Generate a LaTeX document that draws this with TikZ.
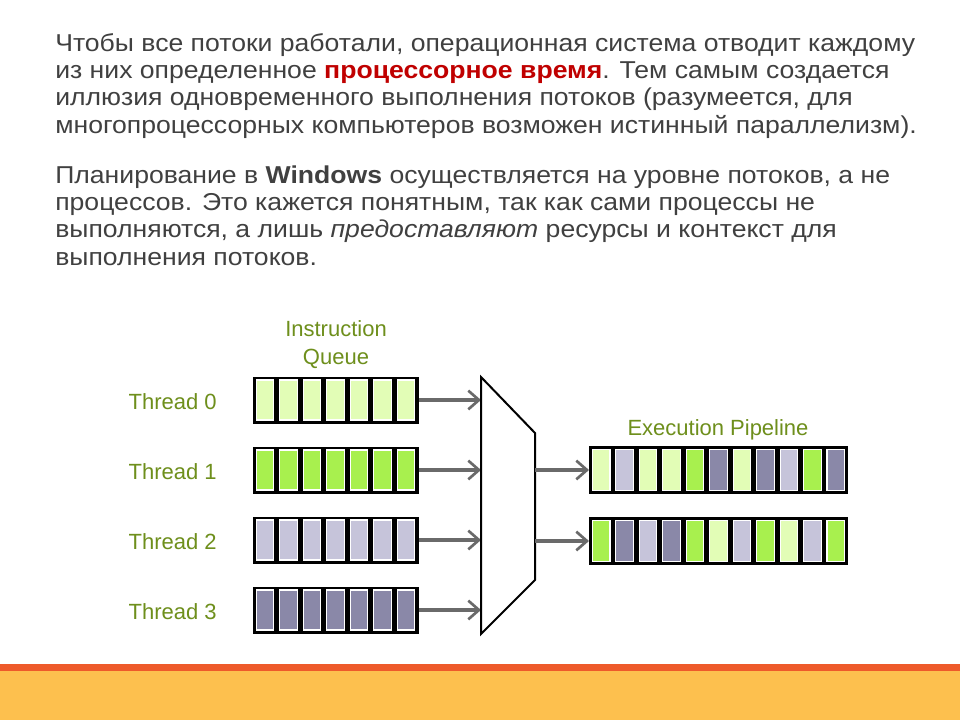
\documentclass[tikz,border=0pt]{standalone}
\usepackage{fontspec}
\usetikzlibrary{arrows.meta}
\setmainfont{Liberation Sans}
\begin{document}
\begin{tikzpicture}[x=0.75pt,y=-0.75pt,
  body/.style={anchor=base west,inner sep=0,text=txtgray,font=\fontsize{18.3}{21}\selectfont,xscale=1.09},
  lab/.style={text=olive,font=\fontsize{16.5}{19}\selectfont,inner sep=0},
  arr/.style={draw=arrgray,line width=3pt,-{Straight Barb[length=8pt,width=14pt,line width=2pt]}}]
\definecolor{txtgray}{HTML}{404040}
\definecolor{olive}{HTML}{6E8F1C}
\definecolor{arrgray}{HTML}{6A6A6A}
\definecolor{cP}{HTML}{E2FDB6}
\definecolor{cG}{HTML}{A8F04E}
\definecolor{cL}{HTML}{C6C4DA}
\definecolor{cD}{HTML}{8A88A8}
\definecolor{redb}{HTML}{C00000}
\definecolor{barr}{HTML}{EE5A2A}
\definecolor{bary}{HTML}{FDC04E}
\useasboundingbox (0,0) rectangle (960,720);
\fill[white] (0,0) rectangle (960,720);
\fill[barr] (0,664) rectangle (960,671);
\fill[bary] (0,671) rectangle (960,720);
% text
\node[body] (t1) at (55,52) {Чтобы все потоки работали, операционная система отводит каждому};
\node[body] (t2) at (55,79) {из них определенное \textbf{\color{redb}процессорное время}. Тем самым создается};
\node[body] (t3) at (55,106) {иллюзия одновременного выполнения потоков (разумеется, для};
\node[body] (t4) at (55,134) {многопроцессорных компьютеров возможен истинный параллелизм).};
\node[body] (t5) at (55,184) {Планирование в \textbf{Windows} осуществляется на уровне потоков, а не};
\node[body] (t6) at (55,211) {процессов. Это кажется понятным, так как сами процессы не};
\node[body] (t7) at (55,238) {выполняются, а лишь \textit{предоставляют} ресурсы и контекст для};
\node[body] (t8) at (55,266) {выполнения потоков.};
% labels
\node[lab,align=center] (iq) at (336,345) {Instruction\\[2pt]Queue};
\node[lab] (ep) at (718,430) {Execution Pipeline};
\foreach \i/\y in {0/400,1/470,2/540,3/610}
  \node[lab,anchor=east] (th\i) at (217,\y+2) {Thread \i};
% queues
\def\qrow#1#2#3{%
  \fill[black] (253,#1-23.5) rectangle (419,#1+23.5);
  \foreach \k in {0,...,6}
    \filldraw[fill=#2,draw=white,line width=0.8pt] (253+3.5+\k*23.43,#1-20) rectangle (253+\k*23.43+20.9,#1+20);
  \coordinate (q#3) at (419,#1);
  \coordinate (m#3) at (481,#1);
}
\qrow{400}{cP}{0}
\qrow{470}{cG}{1}
\qrow{540}{cL}{2}
\qrow{610}{cD}{3}
\foreach \i in {0,...,3} \draw[arr] (q\i) -- (m\i);
% mux
\draw[line width=1.5pt,fill=white] (481,377) -- (535,433) -- (535,580) -- (481,634) -- cycle;
% pipeline
\def\prow#1#2#3{%
  \fill[black] (589,#1-24) rectangle (848,#1+24);
  \foreach \c [count=\k from 0] in {#2}
    \filldraw[fill=\c,draw=white,line width=0.8pt] (589+3.5+\k*23.45,#1-20.5) rectangle (589+\k*23.45+21,#1+20.5);
  \coordinate (p#3) at (589,#1);
  \coordinate (o#3) at (535,#1);
}
\prow{470}{cP,cL,cP,cP,cG,cD,cP,cD,cL,cG,cD}{0}
\prow{541}{cG,cD,cL,cD,cG,cP,cL,cG,cP,cL,cG}{1}
\draw[arr] (o0) -- (p0);
\draw[arr] (o1) -- (p1);
\end{tikzpicture}
\end{document}
